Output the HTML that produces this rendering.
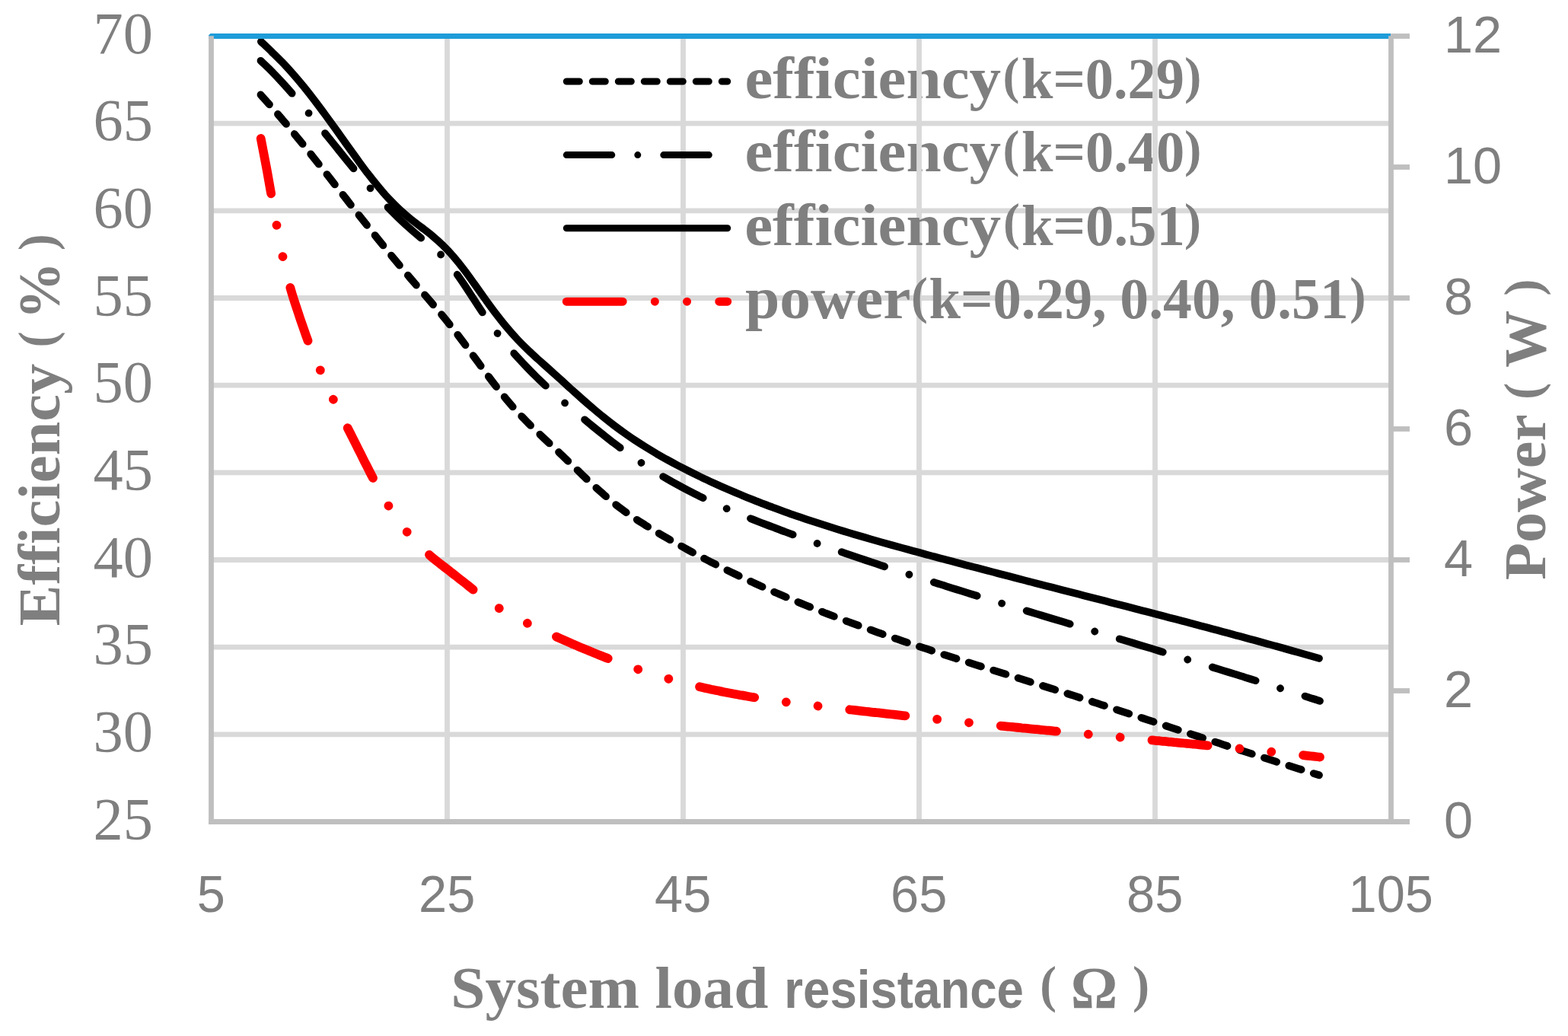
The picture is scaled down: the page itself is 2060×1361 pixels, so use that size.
<!DOCTYPE html>
<html lang="en"><head><meta charset="utf-8"><title>Efficiency and power versus system load resistance</title>
<style>html,body{margin:0;padding:0;background:#fff;overflow:hidden}svg{display:block}.s{font-family:"Liberation Serif",serif}.sb{font-family:"Liberation Serif",serif;font-weight:bold}.a{font-family:"Liberation Sans",sans-serif}.ab{font-family:"Liberation Sans",sans-serif;font-weight:bold}text{fill:#7F7F7F;white-space:pre}</style></head><body>
<svg width="2060" height="1361" viewBox="0 0 2060 1361" role="img">
<rect width="2060" height="1361" fill="#fff"/>
<text xml:space="preserve"><tspan class="sb" font-size="79" x="978.4" y="129.0" textLength="336.7" lengthAdjust="spacingAndGlyphs">efficiency</tspan><tspan class="sb" font-size="68.7" x="1317.6" y="121.7" textLength="21.9" lengthAdjust="spacingAndGlyphs">(</tspan><tspan class="sb" font-size="77" x="1342.0" y="129.0" textLength="214.0" lengthAdjust="spacingAndGlyphs">k=0.29</tspan><tspan class="sb" font-size="68.7" x="1556.0" y="121.7" textLength="22.4" lengthAdjust="spacingAndGlyphs">)</tspan></text>
<text xml:space="preserve"><tspan class="sb" font-size="79" x="978.4" y="225.3" textLength="336.7" lengthAdjust="spacingAndGlyphs">efficiency</tspan><tspan class="sb" font-size="68.7" x="1317.6" y="218.0" textLength="21.9" lengthAdjust="spacingAndGlyphs">(</tspan><tspan class="sb" font-size="77" x="1342.0" y="225.3" textLength="214.3" lengthAdjust="spacingAndGlyphs">k=0.40</tspan><tspan class="sb" font-size="68.7" x="1556.0" y="218.0" textLength="22.4" lengthAdjust="spacingAndGlyphs">)</tspan></text>
<g stroke="#D9D9D9" stroke-width="6.8" fill="none">
<line x1="277.5" y1="162.17" x2="1827.5" y2="162.17"/>
<line x1="277.5" y1="276.83" x2="1827.5" y2="276.83"/>
<line x1="277.5" y1="391.50" x2="1827.5" y2="391.50"/>
<line x1="277.5" y1="506.17" x2="1827.5" y2="506.17"/>
<line x1="277.5" y1="620.83" x2="1827.5" y2="620.83"/>
<line x1="277.5" y1="735.50" x2="1827.5" y2="735.50"/>
<line x1="277.5" y1="850.17" x2="1827.5" y2="850.17"/>
<line x1="277.5" y1="964.83" x2="1827.5" y2="964.83"/>
<line x1="587.5" y1="47.5" x2="587.5" y2="1079.5"/>
<line x1="897.5" y1="47.5" x2="897.5" y2="1079.5"/>
<line x1="1207.5" y1="47.5" x2="1207.5" y2="1079.5"/>
<line x1="1517.5" y1="47.5" x2="1517.5" y2="1079.5"/>
</g>
<text xml:space="preserve"><tspan class="sb" font-size="79" x="978.2" y="321.6" textLength="337.0" lengthAdjust="spacingAndGlyphs">efficiency</tspan><tspan class="sb" font-size="68.7" x="1318.1" y="314.3" textLength="21.9" lengthAdjust="spacingAndGlyphs">(</tspan><tspan class="sb" font-size="77" x="1342.0" y="321.6" textLength="214.8" lengthAdjust="spacingAndGlyphs">k=0.51</tspan><tspan class="sb" font-size="68.7" x="1556.1" y="314.3" textLength="22.0" lengthAdjust="spacingAndGlyphs">)</tspan></text>
<text xml:space="preserve"><tspan class="sb" font-size="79" x="979.0" y="418.3" textLength="217.4" lengthAdjust="spacingAndGlyphs">power</tspan><tspan class="sb" font-size="68.7" x="1197.1" y="411.0" textLength="21.9" lengthAdjust="spacingAndGlyphs">(</tspan><tspan class="sb" font-size="77" x="1220.4" y="418.3" textLength="233.3" lengthAdjust="spacingAndGlyphs">k=0.29,</tspan><tspan class="sb" font-size="77" x="1452.4" y="418.3" textLength="170.4" lengthAdjust="spacingAndGlyphs"> 0.40,</tspan><tspan class="sb" font-size="77" x="1622.0" y="418.3" textLength="149.8" lengthAdjust="spacingAndGlyphs"> 0.51</tspan><tspan class="sb" font-size="68.7" x="1773.3" y="411.0" textLength="21.2" lengthAdjust="spacingAndGlyphs">)</tspan></text>
<g fill="none" stroke-linecap="round" stroke-linejoin="round">
<path d="M342.5 124.5C344.8 127.1 351.9 134.9 356.5 140.2C361.2 145.6 365.9 151.0 370.6 156.5C375.3 162.1 380.0 167.7 384.6 173.3C389.3 179.0 394.0 184.7 398.7 190.5C403.4 196.3 408.0 202.1 412.7 208.0C417.4 213.8 422.1 219.8 426.8 225.7C431.5 231.6 436.1 237.6 440.8 243.5C445.5 249.5 450.2 255.5 454.9 261.4C459.5 267.4 464.2 273.3 468.9 279.3C473.6 285.2 478.3 291.1 483.0 297.0C487.6 302.9 492.3 308.7 497.0 314.6C501.7 320.4 506.4 326.1 511.0 331.8C515.7 337.6 520.4 343.2 525.1 348.8C529.8 354.4 534.5 360.0 539.1 365.5C543.8 371.0 548.5 376.3 553.2 381.8C557.9 387.2 562.5 392.5 567.2 398.0C571.9 403.5 576.6 409.0 581.3 414.7C586.0 420.3 590.6 426.2 595.3 432.1C600.0 438.1 604.7 444.3 609.4 450.5C614.0 456.7 618.7 463.2 623.4 469.5C628.1 475.9 632.8 482.4 637.5 488.7C642.1 495.0 646.8 501.3 651.5 507.3C656.2 513.4 660.9 519.3 665.5 524.9C670.2 530.5 674.9 535.8 679.6 540.9C684.3 546.0 689.0 550.8 693.6 555.5C698.3 560.2 703.0 564.7 707.7 569.2C712.4 573.7 717.0 578.0 721.7 582.4C726.4 586.8 731.1 591.2 735.8 595.7C740.5 600.1 745.1 604.7 749.8 609.2C754.5 613.7 759.2 618.2 763.9 622.7C768.5 627.2 773.2 631.6 777.9 636.0C782.6 640.3 787.3 644.6 792.0 648.6C796.6 652.7 801.3 656.7 806.0 660.5C810.7 664.3 815.4 667.8 820.0 671.3C824.7 674.7 829.4 677.9 834.1 681.0C838.8 684.2 843.5 687.1 848.1 690.1C852.8 693.0 857.5 695.8 862.2 698.6C866.9 701.4 871.5 704.1 876.2 706.8C880.9 709.5 885.6 712.2 890.3 714.8C895.0 717.5 899.6 720.0 904.3 722.6C909.0 725.1 913.7 727.7 918.4 730.1C923.0 732.6 927.7 735.1 932.4 737.5C937.1 739.9 941.8 742.3 946.5 744.6C951.1 747.0 955.8 749.3 960.5 751.6C965.2 753.8 969.9 756.1 974.5 758.3C979.2 760.5 983.9 762.7 988.6 764.9C993.3 767.0 998.0 769.2 1002.6 771.3C1007.3 773.4 1012.0 775.4 1016.7 777.5C1021.4 779.5 1026.0 781.6 1030.7 783.6C1035.4 785.6 1040.1 787.5 1044.8 789.5C1049.5 791.4 1054.1 793.3 1058.8 795.2C1063.5 797.1 1068.2 799.0 1072.9 800.9C1077.5 802.7 1082.2 804.6 1086.9 806.4C1091.6 808.2 1096.3 810.0 1101.0 811.7C1105.6 813.5 1110.3 815.3 1115.0 817.0C1119.7 818.7 1124.4 820.5 1129.0 822.2C1133.7 823.9 1138.4 825.5 1143.1 827.2C1147.8 828.9 1152.5 830.5 1157.1 832.2C1161.8 833.8 1166.5 835.4 1171.2 837.0C1175.9 838.7 1180.5 840.2 1185.2 841.8C1189.9 843.4 1194.6 845.0 1199.3 846.6C1204.0 848.1 1208.6 849.7 1213.3 851.2C1218.0 852.8 1222.7 854.3 1227.4 855.8C1232.0 857.3 1236.7 858.9 1241.4 860.4C1246.1 861.9 1250.8 863.4 1255.5 864.9C1260.1 866.4 1264.8 867.9 1269.5 869.3C1274.2 870.8 1278.9 872.3 1283.5 873.8C1288.2 875.3 1292.9 876.7 1297.6 878.2C1302.3 879.7 1307.0 881.2 1311.6 882.6C1316.3 884.1 1321.0 885.6 1325.7 887.0C1330.4 888.5 1335.0 890.0 1339.7 891.4C1344.4 892.9 1349.1 894.4 1353.8 895.9C1358.5 897.3 1363.1 898.8 1367.8 900.3C1372.5 901.8 1377.2 903.3 1381.9 904.7C1386.5 906.2 1391.2 907.7 1395.9 909.2C1400.6 910.7 1405.3 912.2 1410.0 913.7C1414.6 915.2 1419.3 916.8 1424.0 918.3C1428.7 919.8 1433.4 921.3 1438.0 922.8C1442.7 924.4 1447.4 925.9 1452.1 927.4C1456.8 928.9 1461.5 930.5 1466.1 932.0C1470.8 933.5 1475.5 935.1 1480.2 936.6C1484.9 938.1 1489.5 939.7 1494.2 941.2C1498.9 942.7 1503.6 944.3 1508.3 945.8C1513.0 947.4 1517.6 948.9 1522.3 950.4C1527.0 952.0 1531.7 953.5 1536.4 955.1C1541.0 956.6 1545.7 958.1 1550.4 959.7C1555.1 961.2 1559.8 962.7 1564.5 964.3C1569.1 965.8 1573.8 967.4 1578.5 968.9C1583.2 970.4 1587.9 972.0 1592.5 973.5C1597.2 975.0 1601.9 976.5 1606.6 978.1C1611.3 979.6 1616.0 981.1 1620.6 982.6C1625.3 984.2 1630.0 985.7 1634.7 987.2C1639.4 988.7 1644.0 990.2 1648.7 991.7C1653.4 993.2 1658.1 994.7 1662.8 996.2C1667.5 997.7 1672.1 999.2 1676.8 1000.7C1681.5 1002.2 1686.2 1003.7 1690.9 1005.1C1695.5 1006.6 1700.2 1008.1 1704.9 1009.6C1709.6 1011.0 1714.3 1012.5 1719.0 1013.9C1723.6 1015.4 1730.7 1017.6 1733.0 1018.3" stroke="#000" stroke-width="9.80" stroke-dasharray="17.00 17.00"/>
<path d="M342.5 79.8C344.8 82.1 351.9 88.6 356.6 93.4C361.2 98.1 365.9 103.0 370.6 108.1C375.3 113.2 380.0 118.5 384.7 123.9C389.4 129.3 394.0 134.8 398.7 140.4C403.4 146.0 408.1 151.7 412.8 157.4C417.5 163.2 422.1 169.0 426.8 174.8C431.5 180.6 436.2 186.5 440.9 192.3C445.6 198.1 450.3 204.0 454.9 209.7C459.6 215.5 464.3 221.2 469.0 226.8C473.7 232.4 478.4 237.9 483.1 243.3C487.7 248.7 492.4 254.0 497.1 259.1C501.8 264.2 506.5 269.2 511.2 274.0C515.9 278.8 520.5 283.5 525.2 288.0C529.9 292.5 534.6 296.8 539.3 300.9C544.0 305.1 548.6 308.9 553.3 312.8C558.0 316.6 562.7 319.9 567.4 323.9C572.1 327.9 576.8 332.0 581.4 336.9C586.1 341.9 590.8 347.7 595.5 353.7C600.2 359.8 604.9 366.6 609.6 373.5C614.2 380.4 618.9 387.8 623.6 394.9C628.3 402.0 633.0 409.4 637.7 416.2C642.4 422.9 647.0 429.4 651.7 435.5C656.4 441.7 661.1 447.5 665.8 453.2C670.5 458.8 675.1 464.1 679.8 469.3C684.5 474.5 689.2 479.4 693.9 484.2C698.6 489.1 703.3 493.7 707.9 498.3C712.6 502.8 717.3 507.2 722.0 511.5C726.7 515.8 731.4 520.0 736.1 524.2C740.7 528.3 745.4 532.3 750.1 536.3C754.8 540.3 759.5 544.2 764.2 548.1C768.9 552.0 773.5 555.8 778.2 559.6C782.9 563.4 787.6 567.2 792.3 570.9C797.0 574.6 801.6 578.3 806.3 581.9C811.0 585.4 815.7 589.0 820.4 592.4C825.1 595.8 829.8 599.2 834.4 602.5C839.1 605.7 843.8 608.9 848.5 612.0C853.2 615.1 857.9 618.0 862.6 620.9C867.2 623.8 871.9 626.6 876.6 629.3C881.3 632.1 886.0 634.7 890.7 637.2C895.4 639.8 900.0 642.3 904.7 644.7C909.4 647.1 914.1 649.5 918.8 651.8C923.5 654.1 928.1 656.3 932.8 658.5C937.5 660.6 942.2 662.7 946.9 664.8C951.6 666.9 956.3 668.9 960.9 670.9C965.6 672.9 970.3 674.8 975.0 676.7C979.7 678.7 984.4 680.5 989.1 682.4C993.7 684.2 998.4 686.1 1003.1 687.9C1007.8 689.7 1012.5 691.5 1017.2 693.2C1021.9 695.0 1026.5 696.8 1031.2 698.5C1035.9 700.3 1040.6 702.0 1045.3 703.7C1050.0 705.4 1054.6 707.1 1059.3 708.8C1064.0 710.5 1068.7 712.2 1073.4 713.9C1078.1 715.5 1082.8 717.2 1087.4 718.9C1092.1 720.5 1096.8 722.1 1101.5 723.8C1106.2 725.4 1110.9 727.0 1115.6 728.6C1120.2 730.2 1124.9 731.8 1129.6 733.4C1134.3 735.0 1139.0 736.5 1143.7 738.1C1148.4 739.7 1153.0 741.2 1157.7 742.8C1162.4 744.3 1167.1 745.9 1171.8 747.4C1176.5 748.9 1181.1 750.5 1185.8 752.0C1190.5 753.5 1195.2 755.0 1199.9 756.5C1204.6 758.0 1209.3 759.5 1213.9 761.0C1218.6 762.5 1223.3 763.9 1228.0 765.4C1232.7 766.9 1237.4 768.4 1242.1 769.8C1246.7 771.3 1251.4 772.8 1256.1 774.2C1260.8 775.7 1265.5 777.1 1270.2 778.6C1274.9 780.0 1279.5 781.4 1284.2 782.9C1288.9 784.3 1293.6 785.8 1298.3 787.2C1303.0 788.6 1307.6 790.0 1312.3 791.5C1317.0 792.9 1321.7 794.3 1326.4 795.7C1331.1 797.2 1335.8 798.6 1340.4 800.0C1345.1 801.4 1349.8 802.8 1354.5 804.2C1359.2 805.6 1363.9 807.1 1368.6 808.5C1373.2 809.9 1377.9 811.3 1382.6 812.7C1387.3 814.1 1392.0 815.5 1396.7 816.9C1401.4 818.4 1406.0 819.8 1410.7 821.2C1415.4 822.6 1420.1 824.0 1424.8 825.4C1429.5 826.8 1434.1 828.3 1438.8 829.7C1443.5 831.1 1448.2 832.5 1452.9 833.9C1457.6 835.3 1462.3 836.7 1466.9 838.2C1471.6 839.6 1476.3 841.0 1481.0 842.4C1485.7 843.8 1490.4 845.3 1495.1 846.7C1499.7 848.1 1504.4 849.5 1509.1 850.9C1513.8 852.4 1518.5 853.8 1523.2 855.2C1527.9 856.6 1532.5 858.1 1537.2 859.5C1541.9 860.9 1546.6 862.4 1551.3 863.8C1556.0 865.2 1560.6 866.6 1565.3 868.1C1570.0 869.5 1574.7 871.0 1579.4 872.4C1584.1 873.8 1588.8 875.3 1593.4 876.7C1598.1 878.2 1602.8 879.6 1607.5 881.1C1612.2 882.5 1616.9 884.0 1621.6 885.4C1626.2 886.9 1630.9 888.3 1635.6 889.8C1640.3 891.2 1645.0 892.7 1649.7 894.1C1654.4 895.6 1659.0 897.1 1663.7 898.5C1668.4 900.0 1673.1 901.5 1677.8 903.0C1682.5 904.4 1687.1 905.9 1691.8 907.4C1696.5 908.9 1701.2 910.3 1705.9 911.8C1710.6 913.3 1715.3 914.8 1719.9 916.3C1724.6 917.8 1731.7 920.0 1734.0 920.8" stroke="#000" stroke-width="9.80" stroke-dasharray="59.50 34.00 0.01 34.00"/>
<path d="M342.9 54.6C345.2 56.8 352.3 63.4 356.9 67.9C361.6 72.5 366.3 77.0 371.0 81.9C375.7 86.8 380.3 91.9 385.0 97.2C389.7 102.5 394.4 108.1 399.1 113.9C403.7 119.6 408.4 125.6 413.1 131.7C417.8 137.9 422.5 144.1 427.1 150.5C431.8 156.9 436.5 163.4 441.2 169.9C445.9 176.5 450.6 183.1 455.2 189.7C459.9 196.2 464.6 202.8 469.3 209.2C474.0 215.6 478.6 222.0 483.3 228.1C488.0 234.2 492.7 240.1 497.4 245.7C502.0 251.3 506.7 256.7 511.4 261.7C516.1 266.7 520.8 271.4 525.4 275.7C530.1 280.0 534.8 284.0 539.5 287.8C544.2 291.6 548.8 294.9 553.5 298.5C558.2 302.1 562.9 305.5 567.6 309.5C572.2 313.4 576.9 317.5 581.6 322.0C586.3 326.6 591.0 331.5 595.6 336.9C600.3 342.3 605.0 348.2 609.7 354.4C614.4 360.5 619.0 367.2 623.7 373.7C628.4 380.2 633.1 387.0 637.8 393.5C642.5 400.0 647.1 406.4 651.8 412.5C656.5 418.6 661.2 424.6 665.9 430.2C670.5 435.8 675.2 441.0 679.9 446.0C684.6 451.0 689.3 455.6 693.9 460.0C698.6 464.5 703.3 468.7 708.0 473.0C712.7 477.2 717.3 481.3 722.0 485.5C726.7 489.7 731.4 494.0 736.1 498.2C740.7 502.5 745.4 506.7 750.1 511.0C754.8 515.2 759.5 519.4 764.1 523.5C768.8 527.7 773.5 531.8 778.2 535.7C782.9 539.7 787.5 543.7 792.2 547.4C796.9 551.2 801.6 554.9 806.3 558.5C810.9 562.0 815.6 565.4 820.3 568.7C825.0 572.1 829.7 575.3 834.3 578.4C839.0 581.5 843.7 584.5 848.4 587.4C853.1 590.3 857.8 593.1 862.4 595.9C867.1 598.6 871.8 601.3 876.5 603.9C881.2 606.5 885.8 609.0 890.5 611.5C895.2 613.9 899.9 616.3 904.6 618.7C909.2 621.1 913.9 623.4 918.6 625.6C923.3 627.9 928.0 630.1 932.6 632.3C937.3 634.4 942.0 636.6 946.7 638.7C951.4 640.7 956.0 642.8 960.7 644.8C965.4 646.8 970.1 648.8 974.8 650.7C979.4 652.7 984.1 654.6 988.8 656.4C993.5 658.3 998.2 660.1 1002.8 661.9C1007.5 663.7 1012.2 665.5 1016.9 667.2C1021.6 669.0 1026.2 670.7 1030.9 672.3C1035.6 674.0 1040.3 675.7 1045.0 677.3C1049.7 678.9 1054.3 680.5 1059.0 682.1C1063.7 683.6 1068.4 685.2 1073.1 686.7C1077.7 688.2 1082.4 689.7 1087.1 691.2C1091.8 692.7 1096.5 694.2 1101.1 695.6C1105.8 697.0 1110.5 698.5 1115.2 699.9C1119.9 701.3 1124.5 702.6 1129.2 704.0C1133.9 705.4 1138.6 706.7 1143.3 708.1C1147.9 709.4 1152.6 710.8 1157.3 712.1C1162.0 713.4 1166.7 714.7 1171.3 716.0C1176.0 717.3 1180.7 718.6 1185.4 719.9C1190.1 721.2 1194.7 722.4 1199.4 723.7C1204.1 725.0 1208.8 726.2 1213.5 727.5C1218.1 728.8 1222.8 730.0 1227.5 731.3C1232.2 732.5 1236.9 733.8 1241.6 735.0C1246.2 736.3 1250.9 737.5 1255.6 738.7C1260.3 740.0 1265.0 741.2 1269.6 742.4C1274.3 743.7 1279.0 744.9 1283.7 746.1C1288.4 747.4 1293.0 748.6 1297.7 749.8C1302.4 751.0 1307.1 752.2 1311.8 753.5C1316.4 754.7 1321.1 755.9 1325.8 757.1C1330.5 758.3 1335.2 759.5 1339.8 760.7C1344.5 761.9 1349.2 763.1 1353.9 764.4C1358.6 765.6 1363.2 766.8 1367.9 768.0C1372.6 769.2 1377.3 770.4 1382.0 771.6C1386.6 772.8 1391.3 774.0 1396.0 775.2C1400.7 776.4 1405.4 777.6 1410.0 778.8C1414.7 780.0 1419.4 781.2 1424.1 782.4C1428.8 783.6 1433.4 784.8 1438.1 786.0C1442.8 787.2 1447.5 788.4 1452.2 789.6C1456.9 790.8 1461.5 792.0 1466.2 793.2C1470.9 794.4 1475.6 795.6 1480.3 796.8C1484.9 798.0 1489.6 799.2 1494.3 800.4C1499.0 801.7 1503.7 802.9 1508.3 804.1C1513.0 805.3 1517.7 806.5 1522.4 807.7C1527.1 808.9 1531.7 810.2 1536.4 811.4C1541.1 812.6 1545.8 813.8 1550.5 815.0C1555.1 816.3 1559.8 817.5 1564.5 818.7C1569.2 820.0 1573.9 821.2 1578.5 822.4C1583.2 823.7 1587.9 824.9 1592.6 826.2C1597.3 827.4 1601.9 828.7 1606.6 829.9C1611.3 831.2 1616.0 832.4 1620.7 833.7C1625.3 835.0 1630.0 836.2 1634.7 837.5C1639.4 838.8 1644.1 840.0 1648.8 841.3C1653.4 842.6 1658.1 843.9 1662.8 845.2C1667.5 846.5 1672.2 847.7 1676.8 849.0C1681.5 850.3 1686.2 851.6 1690.9 853.0C1695.6 854.3 1700.2 855.6 1704.9 856.9C1709.6 858.2 1714.3 859.6 1719.0 860.9C1723.6 862.2 1730.7 864.2 1733.0 864.9" stroke="#000" stroke-width="9.80"/>
<path d="M342.7 182.0C344.0 189.0 348.0 209.2 350.7 223.7C353.4 238.2 356.0 254.0 358.7 268.9C361.4 283.8 364.0 299.3 366.7 313.1C369.4 326.9 372.0 340.2 374.7 351.8C377.3 363.4 380.0 373.4 382.7 382.7C385.3 392.0 388.0 399.5 390.7 407.6C393.3 415.7 396.0 423.7 398.7 431.3C401.3 438.9 404.0 446.5 406.7 453.3C409.3 460.2 412.0 466.3 414.7 472.5C417.3 478.7 420.0 484.5 422.7 490.5C425.3 496.6 428.0 502.9 430.7 508.9C433.3 514.9 436.0 520.9 438.7 526.5C441.3 532.2 444.0 537.5 446.6 542.7C449.3 548.0 452.0 553.1 454.6 558.2C457.3 563.4 460.0 568.6 462.6 573.9C465.3 579.2 468.0 584.5 470.6 589.8C473.3 595.1 476.0 600.5 478.6 605.8C481.3 611.0 484.0 616.3 486.6 621.5C489.3 626.7 492.0 631.8 494.6 636.7C497.3 641.7 500.0 646.6 502.6 651.3C505.3 655.9 508.0 660.5 510.6 664.8C513.3 669.1 515.9 673.3 518.6 677.2C521.3 681.1 523.9 684.9 526.6 688.4C529.3 692.0 531.9 695.4 534.6 698.7C537.3 701.9 539.9 705.0 542.6 708.0C545.3 710.9 547.9 713.7 550.6 716.4C553.3 719.1 555.9 721.7 558.6 724.1C561.3 726.6 563.9 728.9 566.6 731.2C569.3 733.5 571.9 735.6 574.6 737.8C577.2 739.9 579.9 741.9 582.6 744.0C585.2 746.1 587.9 748.1 590.6 750.1C593.2 752.2 595.9 754.3 598.6 756.4C601.2 758.4 603.9 760.6 606.6 762.7C609.2 764.8 611.9 766.9 614.6 769.0C617.2 771.1 619.9 773.2 622.6 775.3C625.2 777.3 627.9 779.4 630.6 781.4C633.2 783.4 635.9 785.4 638.6 787.3C641.2 789.3 643.9 791.2 646.5 793.0C649.2 794.8 651.9 796.6 654.5 798.3C657.2 800.0 659.9 801.6 662.5 803.1C665.2 804.7 667.9 806.1 670.5 807.6C673.2 809.0 675.9 810.4 678.5 811.8C681.2 813.1 683.9 814.4 686.5 815.7C689.2 817.0 691.9 818.3 694.5 819.6C697.2 820.9 699.9 822.1 702.5 823.4C705.2 824.6 707.8 825.9 710.5 827.1C713.2 828.4 715.8 829.6 718.5 830.9C721.2 832.1 723.8 833.3 726.5 834.5C729.2 835.7 731.8 836.9 734.5 838.1C737.2 839.3 739.8 840.5 742.5 841.7C745.2 842.9 747.8 844.0 750.5 845.2C753.2 846.3 755.8 847.5 758.5 848.6C761.2 849.8 763.8 850.9 766.5 852.0C769.2 853.1 771.8 854.2 774.5 855.3C777.1 856.4 779.8 857.5 782.5 858.6C785.1 859.7 787.8 860.7 790.5 861.8C793.1 862.8 795.8 863.9 798.5 864.9C801.1 865.9 803.8 866.9 806.5 867.9C809.1 868.9 811.8 869.9 814.5 870.9C817.1 871.9 819.8 872.9 822.5 873.8C825.1 874.8 827.8 875.7 830.5 876.6C833.1 877.6 835.8 878.5 838.5 879.4C841.1 880.3 843.8 881.2 846.4 882.0C849.1 882.9 851.8 883.8 854.4 884.6C857.1 885.5 859.8 886.3 862.4 887.1C865.1 887.9 867.8 888.7 870.4 889.5C873.1 890.3 875.8 891.1 878.4 891.8C881.1 892.6 883.8 893.3 886.4 894.1C889.1 894.8 891.8 895.5 894.4 896.2C897.1 896.9 899.8 897.6 902.4 898.3C905.1 898.9 907.7 899.6 910.4 900.2C913.1 900.9 915.7 901.5 918.4 902.1C921.1 902.7 923.7 903.3 926.4 903.9C929.1 904.5 931.7 905.1 934.4 905.7C937.1 906.2 939.7 906.8 942.4 907.3C945.1 907.9 947.7 908.4 950.4 909.0C953.1 909.5 955.7 910.0 958.4 910.5C961.1 911.0 963.7 911.5 966.4 912.0C969.1 912.5 971.7 912.9 974.4 913.4C977.0 913.9 979.7 914.3 982.4 914.8C985.0 915.2 987.7 915.6 990.4 916.1C993.0 916.5 995.7 916.9 998.4 917.3C1001.0 917.8 1003.7 918.2 1006.4 918.6C1009.0 919.0 1011.7 919.3 1014.4 919.7C1017.0 920.1 1019.7 920.5 1022.4 920.9C1025.0 921.2 1027.7 921.6 1030.4 922.0C1033.0 922.3 1035.7 922.7 1038.3 923.0C1041.0 923.4 1043.7 923.7 1046.3 924.1C1049.0 924.4 1051.7 924.7 1054.3 925.1C1057.0 925.4 1059.7 925.7 1062.3 926.1C1065.0 926.4 1067.7 926.7 1070.3 927.0C1073.0 927.3 1075.7 927.6 1078.3 928.0C1081.0 928.3 1083.7 928.6 1086.3 928.9C1089.0 929.2 1091.7 929.5 1094.3 929.8C1097.0 930.1 1099.7 930.4 1102.3 930.7C1105.0 931.0 1107.6 931.3 1110.3 931.6C1113.0 931.9 1115.6 932.2 1118.3 932.5C1121.0 932.8 1123.6 933.1 1126.3 933.4C1129.0 933.7 1131.6 934.0 1134.3 934.3C1137.0 934.6 1139.6 934.9 1142.3 935.2C1145.0 935.5 1147.6 935.8 1150.3 936.0C1153.0 936.3 1155.6 936.6 1158.3 936.9C1161.0 937.2 1163.6 937.5 1166.3 937.8C1169.0 938.1 1171.6 938.4 1174.3 938.7C1176.9 939.0 1179.6 939.3 1182.3 939.6C1184.9 939.9 1187.6 940.2 1190.3 940.4C1192.9 940.7 1195.6 941.0 1198.3 941.3C1200.9 941.6 1203.6 941.9 1206.3 942.2C1208.9 942.5 1211.6 942.8 1214.3 943.0C1216.9 943.3 1219.6 943.6 1222.3 943.9C1224.9 944.2 1227.6 944.5 1230.3 944.8C1232.9 945.0 1235.6 945.3 1238.2 945.6C1240.9 945.9 1243.6 946.2 1246.2 946.5C1248.9 946.7 1251.6 947.0 1254.2 947.3C1256.9 947.6 1259.6 947.9 1262.2 948.1C1264.9 948.4 1267.6 948.7 1270.2 949.0C1272.9 949.3 1275.6 949.5 1278.2 949.8C1280.9 950.1 1283.6 950.4 1286.2 950.6C1288.9 950.9 1291.6 951.2 1294.2 951.5C1296.9 951.7 1299.6 952.0 1302.2 952.3C1304.9 952.5 1307.5 952.8 1310.2 953.1C1312.9 953.4 1315.5 953.6 1318.2 953.9C1320.9 954.2 1323.5 954.4 1326.2 954.7C1328.9 954.9 1331.5 955.2 1334.2 955.5C1336.9 955.7 1339.5 956.0 1342.2 956.3C1344.9 956.5 1347.5 956.8 1350.2 957.0C1352.9 957.3 1355.5 957.6 1358.2 957.8C1360.9 958.1 1363.5 958.3 1366.2 958.6C1368.9 958.9 1371.5 959.1 1374.2 959.4C1376.8 959.6 1379.5 959.9 1382.2 960.1C1384.8 960.4 1387.5 960.6 1390.2 960.9C1392.8 961.1 1395.5 961.4 1398.2 961.6C1400.8 961.9 1403.5 962.2 1406.2 962.4C1408.8 962.7 1411.5 962.9 1414.2 963.2C1416.8 963.4 1419.5 963.7 1422.2 963.9C1424.8 964.2 1427.5 964.4 1430.2 964.7C1432.8 964.9 1435.5 965.2 1438.1 965.4C1440.8 965.6 1443.5 965.9 1446.1 966.1C1448.8 966.4 1451.5 966.6 1454.1 966.9C1456.8 967.1 1459.5 967.4 1462.1 967.6C1464.8 967.9 1467.5 968.1 1470.1 968.4C1472.8 968.6 1475.5 968.9 1478.1 969.1C1480.8 969.4 1483.5 969.6 1486.1 969.9C1488.8 970.1 1491.5 970.4 1494.1 970.6C1496.8 970.9 1499.5 971.1 1502.1 971.4C1504.8 971.6 1507.4 971.8 1510.1 972.1C1512.8 972.3 1515.4 972.6 1518.1 972.8C1520.8 973.1 1523.4 973.3 1526.1 973.6C1528.8 973.8 1531.4 974.1 1534.1 974.3C1536.8 974.6 1539.4 974.8 1542.1 975.1C1544.8 975.3 1547.4 975.6 1550.1 975.9C1552.8 976.1 1555.4 976.4 1558.1 976.6C1560.8 976.9 1563.4 977.1 1566.1 977.4C1568.7 977.6 1571.4 977.9 1574.1 978.1C1576.7 978.4 1579.4 978.6 1582.1 978.9C1584.7 979.2 1587.4 979.4 1590.1 979.7C1592.7 979.9 1595.4 980.2 1598.1 980.5C1600.7 980.7 1603.4 981.0 1606.1 981.2C1608.7 981.5 1611.4 981.8 1614.1 982.0C1616.7 982.3 1619.4 982.5 1622.1 982.8C1624.7 983.1 1627.4 983.3 1630.1 983.6C1632.7 983.9 1635.4 984.1 1638.0 984.4C1640.7 984.7 1643.4 984.9 1646.0 985.2C1648.7 985.5 1651.4 985.8 1654.0 986.0C1656.7 986.3 1659.4 986.6 1662.0 986.9C1664.7 987.1 1667.4 987.4 1670.0 987.7C1672.7 988.0 1675.4 988.2 1678.0 988.5C1680.7 988.8 1683.4 989.1 1686.0 989.4C1688.7 989.6 1691.4 989.9 1694.0 990.2C1696.7 990.5 1699.4 990.8 1702.0 991.1C1704.7 991.4 1707.3 991.6 1710.0 991.9C1712.7 992.2 1715.3 992.5 1718.0 992.8C1720.7 993.1 1723.3 993.4 1726.0 993.7C1728.7 994.0 1732.7 994.4 1734.0 994.6" stroke="#f00" stroke-width="11.80" stroke-dasharray="73.54 42.02 0.01 42.02 0.01 42.02"/>
<path d="M744.3 107H955.7" stroke="#000" stroke-width="9.00" stroke-dasharray="17.00 17.00"/>
<path d="M744.3 203.6H955.7" stroke="#000" stroke-width="9.00" stroke-dasharray="59.50 34.00 0.01 34.00"/>
<path d="M744.3 299.8H955.7" stroke="#000" stroke-width="9.00"/>
<path d="M744.3 396.2H955.7" stroke="#f00" stroke-width="11.00" stroke-dasharray="73.85 42.20 0.01 42.20 0.01 42.20"/>
</g>
<path d="M276.3 44H1827V51H274.1V46.6Z" fill="#1E9CD9"/>
<g stroke="#BFBFBF" stroke-width="6.8" fill="none">
<line x1="277.5" y1="47.3" x2="277.5" y2="1082.9"/>
<line x1="1827.5" y1="47.3" x2="1827.5" y2="1082.9"/>
<line x1="274.1" y1="1079.5" x2="1852.0" y2="1079.5"/>
<line x1="1827.1" y1="47.50" x2="1852.0" y2="47.50"/>
<line x1="1827.5" y1="219.50" x2="1852.0" y2="219.50"/>
<line x1="1827.5" y1="391.50" x2="1852.0" y2="391.50"/>
<line x1="1827.5" y1="563.50" x2="1852.0" y2="563.50"/>
<line x1="1827.5" y1="735.50" x2="1852.0" y2="735.50"/>
<line x1="1827.5" y1="907.50" x2="1852.0" y2="907.50"/>
</g>
<g class="s" font-size="78.4" text-anchor="end">
<text x="201" y="69.7">70</text>
<text x="201" y="184.4">65</text>
<text x="201" y="299.0">60</text>
<text x="201" y="413.7">55</text>
<text x="201" y="528.4">50</text>
<text x="201" y="643.0">45</text>
<text x="201" y="757.7">40</text>
<text x="201" y="872.4">35</text>
<text x="201" y="987.0">30</text>
<text x="201" y="1101.7">25</text>
</g>
<g class="a" font-size="68.5">
<text x="1897" y="68.9">12</text>
<text x="1897" y="240.9">10</text>
<text x="1897" y="412.9">8</text>
<text x="1897" y="584.9">6</text>
<text x="1897" y="756.9">4</text>
<text x="1897" y="928.9">2</text>
<text x="1897" y="1100.9">0</text>
</g>
<g class="a" font-size="68.5" text-anchor="middle">
<text x="277.2" y="1197.8" textLength="37.1" lengthAdjust="spacingAndGlyphs">5</text>
<text x="587.2" y="1197.8" textLength="74.3" lengthAdjust="spacingAndGlyphs">25</text>
<text x="897.2" y="1197.8" textLength="74.3" lengthAdjust="spacingAndGlyphs">45</text>
<text x="1207.2" y="1197.8" textLength="74.3" lengthAdjust="spacingAndGlyphs">65</text>
<text x="1517.2" y="1197.8" textLength="74.3" lengthAdjust="spacingAndGlyphs">85</text>
<text x="1827.2" y="1197.8" textLength="111.4" lengthAdjust="spacingAndGlyphs">105</text>
</g>
<text xml:space="preserve" transform="rotate(-90)"><tspan class="sb" font-size="79" x="-822.3" y="77.8" textLength="344.6" lengthAdjust="spacingAndGlyphs">Efficiency</tspan><tspan class="sb" font-size="68.7" x="-471.8" y="70.5" textLength="36.5" lengthAdjust="spacingAndGlyphs"> (</tspan><tspan class="sb" font-size="79" x="-438.4" y="77.8" textLength="94.2" lengthAdjust="spacingAndGlyphs"> %</tspan><tspan class="sb" font-size="68.7" x="-345.2" y="70.5" textLength="37.9" lengthAdjust="spacingAndGlyphs"> )</tspan></text>
<text xml:space="preserve" transform="rotate(-90)"><tspan class="sb" font-size="79" x="-762.0" y="2030.0" textLength="217.9" lengthAdjust="spacingAndGlyphs">Power</tspan><tspan class="sb" font-size="68.7" x="-541.6" y="2022.7" textLength="38.9" lengthAdjust="spacingAndGlyphs"> (</tspan><tspan class="sb" font-size="79" x="-500.2" y="2030.0" textLength="92.3" lengthAdjust="spacingAndGlyphs"> W</tspan><tspan class="sb" font-size="68.7" x="-405.4" y="2022.7" textLength="38.6" lengthAdjust="spacingAndGlyphs"> )</tspan></text>
<text xml:space="preserve"><tspan class="sb" font-size="79" x="592.3" y="1323.7" textLength="417.0" lengthAdjust="spacingAndGlyphs">System load</tspan><tspan class="ab" font-size="71.2" x="1012.6" y="1323.7" textLength="332.4" lengthAdjust="spacingAndGlyphs"> resistance</tspan><tspan class="sb" font-size="68.7" x="1349.9" y="1316.4" textLength="38.0" lengthAdjust="spacingAndGlyphs"> (</tspan><tspan class="sb" font-size="79" x="1387.5" y="1323.7" textLength="80.7" lengthAdjust="spacingAndGlyphs"> Ω</tspan><tspan class="sb" font-size="68.7" x="1471.3" y="1316.4" textLength="38.8" lengthAdjust="spacingAndGlyphs"> )</tspan></text>
</svg></body></html>
